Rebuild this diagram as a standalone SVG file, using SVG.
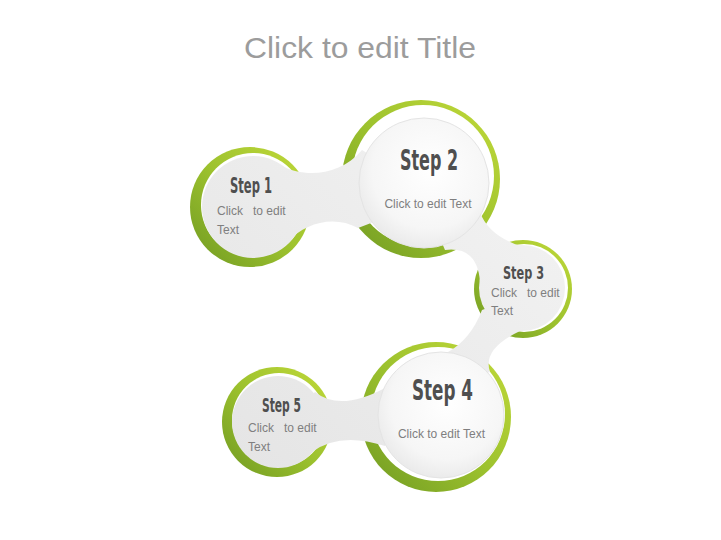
<svg xmlns="http://www.w3.org/2000/svg" width="721" height="540" viewBox="0 0 721 540">
<defs>
<linearGradient id="green" x1="1" y1="0" x2="0" y2="1">
<stop offset="0" stop-color="#c2da3a"/>
<stop offset="0.5" stop-color="#9dc22e"/>
<stop offset="1" stop-color="#6f9922"/>
</linearGradient>
<linearGradient id="grey" gradientUnits="userSpaceOnUse" x1="560" y1="150" x2="220" y2="480">
<stop offset="0" stop-color="#f3f3f3"/>
<stop offset="1" stop-color="#e4e4e4"/>
</linearGradient>
<radialGradient id="face" cx="0.55" cy="0.4" r="0.6">
<stop offset="0" stop-color="#ffffff"/>
<stop offset="0.75" stop-color="#f6f6f6"/>
<stop offset="1" stop-color="#ebebeb"/>
</radialGradient>
<style>
.ring{fill:url(#green)}
.gap{fill:#ffffff}
.soft{fill:url(#grey)}
.face{fill:url(#face);stroke:#e4e4e4;stroke-width:1}
.title{font-family:"Liberation Sans",Arial,sans-serif;font-size:29px;fill:#9c9c9c}
.step{font-family:"DejaVu Sans Condensed","Liberation Sans Narrow","DejaVu Sans",sans-serif;font-weight:bold;fill:#4f4f4f}
.body{font-family:"Liberation Sans",Arial,sans-serif;font-size:12px;fill:#7f7f7f;white-space:pre}
</style>
</defs>
<rect width="721" height="540" fill="#ffffff"/>
<text class="title" x="244" y="58" textLength="232" lengthAdjust="spacingAndGlyphs">Click to edit Title</text>

<g id="step1-ring"><circle class="ring" cx="250" cy="207" r="60"/><circle class="gap" cx="253" cy="205" r="52"/></g>
<g id="step2-ring"><circle class="ring" cx="421" cy="179" r="79"/><circle class="gap" cx="423" cy="176" r="71"/></g>
<g id="step3-ring"><circle class="ring" cx="523" cy="289" r="49"/><circle class="gap" cx="524" cy="288" r="44"/></g>
<g id="step4-ring"><circle class="ring" cx="436" cy="417" r="75"/><circle class="gap" cx="438" cy="414" r="67"/></g>
<g id="step5-ring"><circle class="ring" cx="277" cy="422" r="55"/><circle class="gap" cx="279" cy="420" r="47"/></g>

<g id="connectors">
<path class="soft" d="M 282,166 C 305,178 340,176 362,150 L 392,168 L 392,215 L 358,228 C 335,215 305,222 288,242 L 258,210 Z"/>
<path class="soft" d="M 480,212 Q 488,235 520,246 L 505,285 L 480,282 Q 477.5,246 445,250 L 430,215 Z"/>
<path class="soft" d="M 482,310 Q 471,339 448,352 L 470,380 L 490,372 Q 482,349 520,331 L 510,300 Z"/>
<path class="soft" d="M 315,392 Q 340,412 385,388 L 402,418 L 385,446 Q 340,431.5 312,452 L 290,420 Z"/>
</g>

<g id="step1">
<circle class="soft" cx="253" cy="207" r="51"/>
<text class="step" x="230" y="193" font-size="21" textLength="42" lengthAdjust="spacingAndGlyphs">Step 1</text>
<text class="body" x="217" y="215">Click   to edit</text>
<text class="body" x="217" y="234">Text</text>
</g>
<g id="step2">
<circle class="face" cx="424" cy="183" r="65"/>
<text class="step" x="400" y="170" font-size="29" textLength="58" lengthAdjust="spacingAndGlyphs">Step 2</text>
<text class="body" x="428" y="208" text-anchor="middle">Click to edit Text</text>
</g>
<g id="step3">
<circle class="soft" cx="522" cy="288" r="43"/>
<text class="step" x="503" y="279" font-size="18" textLength="41" lengthAdjust="spacingAndGlyphs">Step 3</text>
<text class="body" x="491" y="297">Click   to edit</text>
<text class="body" x="491" y="315">Text</text>
</g>
<g id="step4">
<circle class="face" cx="441" cy="415" r="63"/>
<text class="step" x="412" y="400" font-size="29" textLength="61" lengthAdjust="spacingAndGlyphs">Step 4</text>
<text class="body" x="441.5" y="438" text-anchor="middle">Click to edit Text</text>
</g>
<g id="step5">
<circle class="soft" cx="278" cy="422" r="46"/>
<text class="step" x="262" y="412" font-size="19" textLength="39" lengthAdjust="spacingAndGlyphs">Step 5</text>
<text class="body" x="248" y="432">Click   to edit</text>
<text class="body" x="248" y="451">Text</text>
</g>
</svg>
